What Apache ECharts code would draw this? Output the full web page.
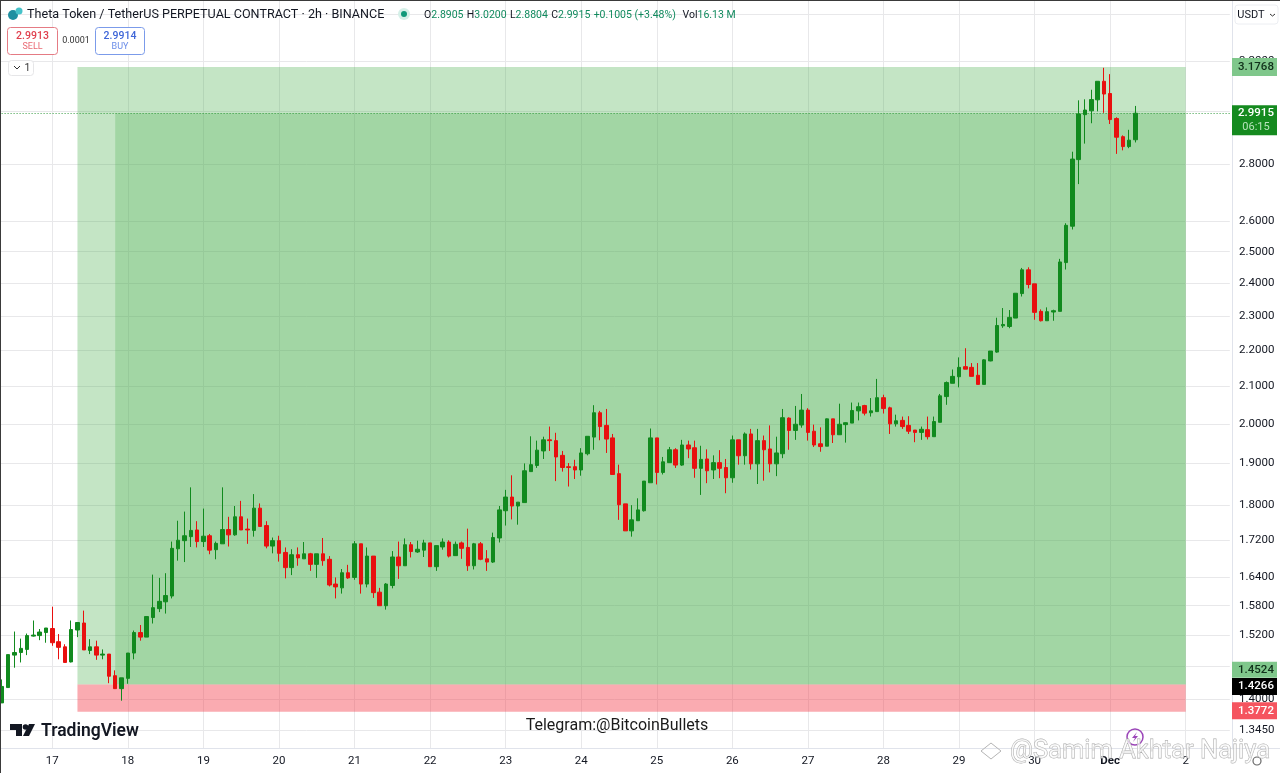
<!DOCTYPE html>
<html>
<head>
<meta charset="utf-8">
<title>THETA/USDT 2h</title>
<script src="https://cdn.jsdelivr.net/npm/echarts@6/dist/echarts.min.js"></script>
<style>
html, body { margin: 0; padding: 0; background: #fff; }
#chart { width: 1280px; height: 773px; }
</style>
</head>
<body>
<div id="chart"></div>
<script>
// 2h candles, oldest first
var opens = [
    1.393,1.421,1.482,1.487,1.493,1.519,1.520,1.526,1.534,1.508,
    1.498,1.469,1.531,1.545,1.491,1.498,1.482,1.484,1.443,1.419,
    1.438,1.486,1.526,1.517,1.556,1.574,1.588,1.600,1.701,1.719,
    1.728,1.743,1.717,1.730,1.699,1.712,1.744,1.732,1.773,1.745,
    1.742,1.793,1.753,1.707,1.719,1.693,1.660,1.688,1.679,1.690,
    1.667,1.690,1.678,1.625,1.617,1.649,1.639,1.712,1.625,1.685,
    1.608,1.580,1.622,1.683,1.664,1.710,1.694,1.698,1.714,1.662,
    1.705,1.716,1.686,1.714,1.704,1.664,1.712,1.679,1.672,1.725,
    1.787,1.819,1.798,1.806,1.880,1.895,1.931,1.959,1.957,1.920,
    1.892,1.892,1.884,1.924,1.966,2.029,1.996,1.964,1.875,1.803,
    1.741,1.764,1.787,1.853,1.964,1.878,1.902,1.934,1.896,1.946,
    1.939,1.888,1.911,1.884,1.902,1.890,1.865,1.959,1.919,1.974,
    1.899,1.957,1.936,1.899,1.924,2.015,1.983,1.997,2.036,1.981,
    1.949,1.943,2.013,1.972,1.998,2.002,2.034,2.048,2.029,2.032,
    2.069,2.042,2.000,2.009,1.996,1.984,1.978,1.985,1.967,2.004,
    2.072,2.108,2.126,2.154,2.152,2.130,2.105,2.170,2.195,2.271,
    2.269,2.294,2.368,2.442,2.398,2.314,2.286,2.312,2.314,2.465,
    2.584,2.817,2.986,3.001,3.044,3.118,3.069,2.971,2.902,2.865,2.8905
];
var closes = [
    1.423,1.483,1.487,1.495,1.520,1.521,1.527,1.535,1.506,1.497,
    1.468,1.532,1.546,1.492,1.498,1.482,1.484,1.442,1.419,1.439,
    1.486,1.526,1.517,1.558,1.576,1.589,1.601,1.702,1.720,1.730,
    1.742,1.717,1.729,1.698,1.713,1.744,1.732,1.773,1.743,1.743,
    1.793,1.751,1.707,1.719,1.691,1.660,1.688,1.681,1.690,1.667,
    1.690,1.675,1.623,1.619,1.649,1.638,1.712,1.625,1.685,1.607,
    1.580,1.625,1.683,1.664,1.710,1.695,1.700,1.714,1.662,1.708,
    1.716,1.685,1.711,1.702,1.664,1.712,1.678,1.672,1.726,1.789,
    1.819,1.798,1.807,1.882,1.897,1.933,1.959,1.957,1.916,1.890,
    1.890,1.884,1.926,1.968,2.029,1.993,1.961,1.873,1.801,1.741,
    1.766,1.789,1.857,1.964,1.878,1.904,1.934,1.896,1.946,1.936,
    1.888,1.910,1.882,1.902,1.888,1.865,1.959,1.919,1.974,1.899,
    1.957,1.934,1.899,1.926,2.016,1.983,1.999,2.036,1.978,1.946,
    1.942,2.013,1.972,1.999,2.003,2.035,2.045,2.028,2.034,2.069,
    2.040,2.000,2.008,1.993,1.981,1.978,1.986,1.967,2.006,2.074,
    2.110,2.127,2.152,2.147,2.127,2.105,2.173,2.198,2.272,2.275,
    2.296,2.369,2.442,2.396,2.311,2.286,2.313,2.316,2.467,2.587,
    2.819,2.989,3.004,3.045,3.118,3.067,2.967,2.900,2.865,2.889,2.9915
];
var lows = [
    1.393,1.421,1.458,1.468,1.482,1.518,1.511,1.506,1.500,1.474,
    1.468,1.468,1.517,1.492,1.484,1.473,1.474,1.429,1.419,1.397,
    1.428,1.474,1.510,1.517,1.544,1.567,1.564,1.595,1.675,1.672,
    1.705,1.704,1.705,1.689,1.678,1.712,1.706,1.730,1.743,1.712,
    1.728,1.751,1.702,1.691,1.673,1.637,1.644,1.664,1.679,1.653,
    1.638,1.664,1.620,1.595,1.605,1.636,1.634,1.605,1.618,1.596,
    1.580,1.572,1.616,1.636,1.664,1.682,1.692,1.683,1.662,1.653,
    1.699,1.682,1.686,1.679,1.653,1.656,1.676,1.653,1.670,1.715,
    1.753,1.767,1.755,1.806,1.880,1.889,1.911,1.931,1.857,1.880,
    1.844,1.862,1.870,1.920,1.934,1.958,1.926,1.873,1.766,1.741,
    1.728,1.764,1.785,1.853,1.849,1.873,1.902,1.889,1.894,1.913,
    1.865,1.824,1.852,1.862,1.864,1.828,1.853,1.897,1.897,1.885,
    1.850,1.858,1.878,1.869,1.913,1.934,1.959,1.990,1.957,1.941,
    1.929,1.943,1.951,1.972,1.952,2.002,2.009,2.022,2.019,2.032,
    2.027,1.974,1.993,1.987,1.974,1.953,1.959,1.960,1.967,2.004,
    2.050,2.108,2.097,2.147,2.127,2.105,2.105,2.169,2.193,2.265,
    2.264,2.294,2.359,2.384,2.289,2.284,2.286,2.286,2.314,2.443,
    2.573,2.729,2.876,2.953,2.999,2.993,2.950,2.838,2.851,2.859,2.8804
];
var highs = [
    1.436,1.483,1.528,1.514,1.524,1.550,1.533,1.535,1.578,1.523,
    1.503,1.550,1.546,1.570,1.513,1.510,1.493,1.484,1.453,1.439,
    1.486,1.530,1.541,1.559,1.645,1.638,1.648,1.717,1.764,1.785,
    1.842,1.763,1.792,1.734,1.717,1.842,1.773,1.798,1.810,1.769,
    1.826,1.804,1.763,1.726,1.730,1.704,1.700,1.704,1.716,1.692,
    1.690,1.725,1.685,1.639,1.657,1.666,1.718,1.712,1.704,1.685,
    1.617,1.627,1.696,1.717,1.724,1.716,1.719,1.721,1.714,1.708,
    1.724,1.720,1.717,1.717,1.746,1.714,1.716,1.698,1.737,1.798,
    1.836,1.871,1.807,1.900,1.968,1.957,1.967,1.993,1.977,1.931,
    1.901,1.909,1.938,1.968,2.049,2.034,2.039,1.974,1.897,1.803,
    1.800,1.816,1.857,1.988,1.964,1.916,1.941,1.938,1.959,1.957,
    1.957,1.944,1.935,1.920,1.933,1.911,1.970,1.959,1.978,1.987,
    1.987,1.970,1.996,1.967,2.039,2.017,2.047,2.079,2.041,1.998,
    1.991,2.014,2.013,2.053,2.004,2.056,2.056,2.050,2.068,2.120,
    2.077,2.045,2.024,2.019,2.020,1.984,1.993,2.019,2.019,2.079,
    2.113,2.146,2.180,2.206,2.164,2.164,2.175,2.198,2.295,2.324,
    2.318,2.369,2.448,2.450,2.398,2.320,2.326,2.319,2.477,2.594,
    2.846,3.042,3.046,3.084,3.118,3.173,3.147,2.976,2.907,2.928,3.020
];
var dayLabels = ['17','18','19','20','21','22','23','24','25','26','27','28','29','30','Dec','2'];
var gridTicks = [3.4,3.2,3.0,2.8,2.6,2.5,2.4,2.3,2.2,2.1,2.0,1.9,1.8,1.72,1.64,1.58,1.52,1.46,1.4,1.345];
var labelTicks = [3.2,3.0,2.8,2.6,2.5,2.4,2.3,2.2,2.1,2.0,1.9,1.8,1.72,1.64,1.58,1.52,1.46,1.4,1.345];

// long position tool
var targetPrice = 3.1768;
var lastPrice = 2.9915;
var entryPrice = 1.4266;
var stopPrice = 1.3772;
var toolStartSlot = 13;
var toolFillSlot = 19;
var toolEndSlot = 189;

var tagValues = [3.1768, 2.9915, 1.4524, 1.4266, 1.3772];
var tagTexts = ['3.1768', '2.9915', '1.4524', '1.4266', '1.3772'];
var tagStyles = [
    {bg: '#7fc78b', fg: '#10301a', dy: 0, h: 18},
    {bg: '#158a1f', fg: '#ffffff', dy: 0, h: 30, sub: '06:15'},
    {bg: '#7fc78b', fg: '#10301a', dy: -1, h: 16},
    {bg: '#000000', fg: '#ffffff', dy: 2, h: 17},
    {bg: '#f5545f', fg: '#ffffff', dy: -1, h: 17}
];

var SLOTS = 197;
var FIRST_DAY_SLOT = 9;
var SLOTS_PER_DAY = 12;
var UP = '#118a1e';
var DOWN = '#e8100f';
var FONT = 'Roboto, "Noto Sans", sans-serif';

var categories = [];
for (var i = 0; i < SLOTS; i++) {
    var d = (i - FIRST_DAY_SLOT) / SLOTS_PER_DAY;
    categories.push(d >= 0 && d === Math.floor(d) && d < dayLabels.length ? dayLabels[d] : '');
}

// the first slot stays empty so the first candle is not cut by the grid
var candleData = [['-', '-', '-', '-']];
for (var j = 0; j < opens.length; j++) {
    candleData.push([opens[j], closes[j], lows[j], highs[j]]);
}

function isDaySlot(index) {
    return categories[index] !== '';
}

// price tags on the axis, y comes from the scale
function renderTag(params, api) {
    var st = tagStyles[params.dataIndex];
    var y = api.coord([0, api.value(1)])[1] + st.dy;
    var top = st.sub ? y - 8 : y - st.h / 2;
    var children = [
        {type: 'rect', shape: {x: 1232, y: top, width: 45, height: st.h}, style: {fill: st.bg}},
        {type: 'text', style: {text: tagTexts[params.dataIndex], x: 1256, y: st.sub ? y : top + st.h / 2,
            fill: st.fg, font: '500 11.5px ' + FONT, align: 'center', verticalAlign: 'middle'}}
    ];
    if (st.sub) {
        children.push({type: 'text', style: {text: st.sub, x: 1256, y: y + 14,
            fill: '#b7e3bb', font: '11px ' + FONT, align: 'center', verticalAlign: 'middle'}});
    }
    return {type: 'group', children: children};
}

function box(x, y, w, h, color) {
    return {type: 'rect', z: 20, shape: {x: x, y: y, width: w, height: h, r: 3},
        style: {fill: '#fff', stroke: color, lineWidth: 1}};
}

function label(text, x, y, font, fill, align) {
    return {type: 'text', z: 21, style: {text: text, x: x, y: y, font: font + ' ' + FONT, fill: fill,
        align: align || 'left', verticalAlign: 'middle'}};
}

var headerRich = {
    k: {fill: '#131722', font: '10.5px ' + FONT},
    v: {fill: '#118a5e', font: '10.5px ' + FONT}
};

var graphics = [
    // chart frame
    {type: 'rect', z: 30, shape: {x: 0, y: 0, width: 1280, height: 1}, style: {fill: '#3a3a3a'}},
    {type: 'rect', z: 30, shape: {x: 0, y: 0, width: 1, height: 773}, style: {fill: '#3a3a3a'}},
    {type: 'rect', z: 1, shape: {x: 0, y: 748, width: 1280, height: 1}, style: {fill: '#e0e3eb'}},

    // symbol line
    {type: 'circle', z: 21, shape: {cx: 13, cy: 15, r: 5}, style: {fill: '#1f8fa0'}},
    {type: 'circle', z: 21, shape: {cx: 19, cy: 11, r: 3.5}, style: {fill: '#46c2c9'}},
    label('Theta Token / TetherUS PERPETUAL CONTRACT · 2h · BINANCE', 27, 15, '12.6px', '#131722'),
    {type: 'circle', z: 21, shape: {cx: 404, cy: 14, r: 6}, style: {fill: '#d5f0e8'}},
    {type: 'circle', z: 21, shape: {cx: 404, cy: 14, r: 3}, style: {fill: '#11997a'}},
    {type: 'text', z: 21, style: {
        text: '{k|O}{v|2.8905} {k|H}{v|3.0200} {k|L}{v|2.8804} {k|C}{v|2.9915} {v|+0.1005 (+3.48%)}  {k|Vol}{v|16.13 M}',
        x: 424, y: 15, verticalAlign: 'middle', rich: headerRich
    }},

    // buy and sell buttons
    box(7.5, 27.5, 50, 27, '#e57b84'),
    label('2.9913', 32.5, 36, '500 10.5px', '#e0404e', 'center'),
    label('SELL', 32.5, 47, '9px', '#ea6a74', 'center'),
    label('0.0001', 76, 41, '9px', '#333', 'center'),
    box(95.5, 27.5, 49, 27, '#7b9bea'),
    label('2.9914', 120, 36, '500 10.5px', '#3f66d8', 'center'),
    label('BUY', 120, 47, '9px', '#6a8ce8', 'center'),
    box(8.5, 60.5, 25, 15, '#e6e6e8'),
    {type: 'polyline', z: 21, shape: {points: [[14, 66], [17, 69], [20, 66]]}, style: {stroke: '#333', fill: null, lineWidth: 1}},
    label('1', 27.5, 68, '10.5px', '#333', 'center'),

    // currency button
    {type: 'rect', z: 20, shape: {x: 1235, y: 5, width: 43, height: 19, r: 3}, style: {fill: '#fff', stroke: '#eceef2', lineWidth: 1}},
    label('USDT', 1251, 15, '11px', '#131722', 'center'),
    {type: 'polyline', z: 21, shape: {points: [[1270, 14], [1272.5, 16], [1275, 14]]}, style: {stroke: '#333', fill: null, lineWidth: 1}},

    // tradingview logo
    {type: 'polygon', z: 21, shape: {points: [[10, 724], [22, 724], [22, 736], [16, 736], [16, 730], [10, 730]]}, style: {fill: '#131722'}},
    {type: 'circle', z: 21, shape: {cx: 25.5, cy: 727, r: 2.8}, style: {fill: '#131722'}},
    {type: 'polygon', z: 21, shape: {points: [[29, 724], [35, 724], [29, 736], [23, 736]]}, style: {fill: '#131722'}},
    label('TradingView', 41, 731.5, '600 17.5px', '#131722'),

    label('Telegram:@BitcoinBullets', 617, 725.5, '16px', '#1a1a1a', 'center'),

    // alert badge, settings gear and the author's mark
    {type: 'circle', z: 21, shape: {cx: 1135, cy: 737, r: 8}, style: {fill: 'none', stroke: '#9b45b8', lineWidth: 1.5}},
    {type: 'polygon', z: 21, shape: {points: [[1137, 732], [1132, 738], [1135, 738], [1133, 742], [1138, 736], [1135, 736]]}, style: {fill: '#9b45b8'}},
    {type: 'circle', z: 22, shape: {cx: 1257, cy: 761, r: 4}, style: {fill: 'none', stroke: '#666', lineWidth: 1.2}},
    {type: 'polygon', z: 22, shape: {points: [[991, 743], [1001, 751], [991, 759], [981, 751]]}, style: {fill: 'none', stroke: '#b5b5b5', lineWidth: 1}},
    {type: 'text', z: 23, style: {text: '@Samim Akhtar Najiya', x: 1010, y: 752, font: '25.5px ' + FONT,
        fill: 'rgba(255,255,255,0.65)', stroke: '#a8a8a8', lineWidth: 0.8, verticalAlign: 'middle'}}
];

var option = {
    animation: false,
    backgroundColor: '#fff',
    textStyle: {fontFamily: FONT},
    grid: {left: -4.4, width: 1234.2, top: 1, bottom: 24, outerBoundsMode: 'none'},
    xAxis: {
        type: 'category',
        data: categories,
        boundaryGap: false,
        axisLine: {show: false},
        axisTick: {show: false},
        axisLabel: {
            interval: function (index) { return isDaySlot(index); },
            margin: 6,
            fontSize: 11.5,
            color: '#131722',
            formatter: function (value) { return value === 'Dec' ? '{b|Dec}' : value; },
            rich: {b: {fontWeight: 'bold', fontSize: 11.5, color: '#131722'}}
        },
        splitLine: {
            show: true,
            interval: function (index) { return isDaySlot(index); },
            lineStyle: {color: '#e8e8ea', width: 1}
        }
    },
    yAxis: {
        type: 'log',
        position: 'right',
        offset: 2.2,
        logBase: 10,
        min: 1.3122,
        max: 3.46,
        axisLine: {show: true, lineStyle: {color: '#e0e3eb'}},
        axisTick: {show: false, customValues: gridTicks},
        axisLabel: {
            customValues: labelTicks,
            margin: 7,
            fontSize: 11.5,
            color: '#131722',
            formatter: function (value) { return Number(value).toFixed(4); }
        },
        splitLine: {show: true, lineStyle: {color: '#e8e8ea', width: 1}}
    },
    series: [
        {
            type: 'candlestick',
            data: candleData,
            barWidth: 4,
            clip: true,
            itemStyle: {color: UP, color0: DOWN, borderColor: UP, borderColor0: DOWN, borderWidth: 1},
            markArea: {
                silent: true,
                data: [
                    [{xAxis: toolStartSlot, yAxis: targetPrice, itemStyle: {color: 'rgba(76,175,80,0.33)'}},
                     {xAxis: toolEndSlot, yAxis: entryPrice}],
                    [{xAxis: toolFillSlot, yAxis: lastPrice, itemStyle: {color: 'rgba(76,175,80,0.28)'}},
                     {xAxis: toolEndSlot, yAxis: entryPrice}],
                    [{xAxis: toolStartSlot, yAxis: entryPrice, itemStyle: {color: 'rgba(242,54,69,0.42)'}},
                     {xAxis: toolEndSlot, yAxis: stopPrice}]
                ]
            },
            markLine: {
                silent: true,
                symbol: 'none',
                label: {show: false},
                lineStyle: {color: UP, type: [1, 2], width: 1, opacity: 0.85},
                data: [{yAxis: lastPrice}]
            }
        },
        {
            type: 'custom',
            renderItem: renderTag,
            silent: true,
            z: 10,
            encode: {x: 0, y: 1},
            data: tagValues.map(function (v) { return [0, v]; })
        }
    ],
    graphic: graphics
};

var myChart = echarts.init(document.getElementById('chart'));
myChart.setOption(option);
</script>
</body>
</html>
